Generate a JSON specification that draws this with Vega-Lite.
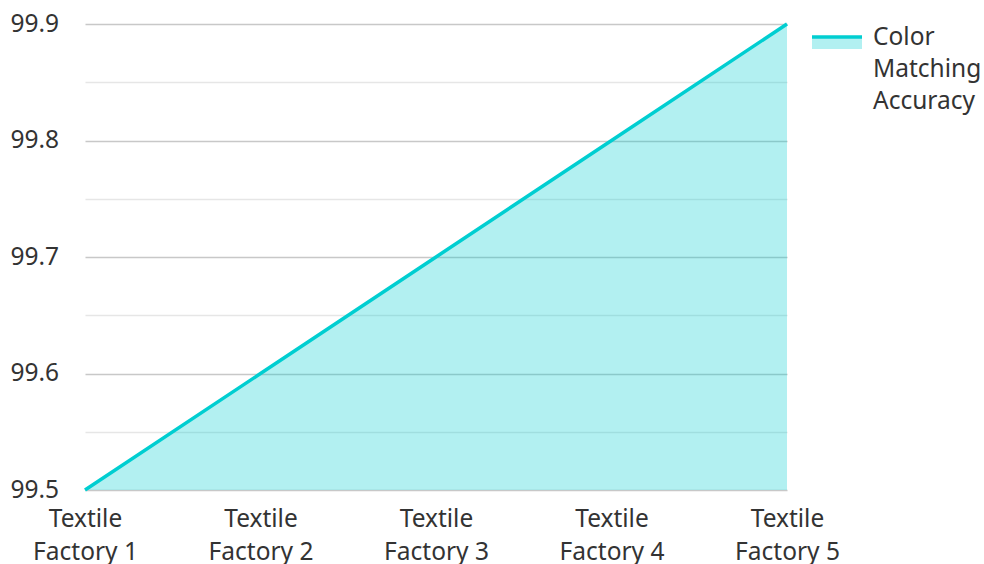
{
  "$schema": "https://vega.github.io/schema/vega-lite/v6.json",
  "width": 702,
  "height": 466,
  "autosize": {"type": "none"},
  "padding": {"left": 85, "top": 24, "right": 197, "bottom": 74},
  "background": "white",
  "config": {
    "view": {"stroke": null},
    "font": "Noto Sans",
    "axis": {"labelFont": "Noto Sans", "labelColor": "#333333", "labelFontSize": 24.5, "domain": false, "ticks": false}
  },
  "data": {
    "values": [
      {"factory": "Textile Factory 1", "accuracy": 99.5, "series": "Color Matching Accuracy"},
      {"factory": "Textile Factory 2", "accuracy": 99.6, "series": "Color Matching Accuracy"},
      {"factory": "Textile Factory 3", "accuracy": 99.7, "series": "Color Matching Accuracy"},
      {"factory": "Textile Factory 4", "accuracy": 99.8, "series": "Color Matching Accuracy"},
      {"factory": "Textile Factory 5", "accuracy": 99.9, "series": "Color Matching Accuracy"}
    ]
  },
  "encoding": {
    "x": {
      "field": "factory", "type": "ordinal", "sort": null,
      "scale": {"type": "point", "padding": 0},
      "axis": {
        "title": null, "labelAngle": 0, "grid": false,
        "labelExpr": "[slice(datum.label,0,7), slice(datum.label,8)]",
        "labelLineHeight": 33, "labelPadding": 29, "labelBaseline": "middle"
      }
    },
    "y": {
      "field": "accuracy", "type": "quantitative",
      "scale": {"domain": [99.5, 99.9], "nice": false, "zero": false, "clamp": true},
      "axis": {
        "title": null,
        "values": [99.5, 99.55, 99.6, 99.65, 99.7, 99.75, 99.8, 99.85, 99.9],
        "labelExpr": "abs(datum.value*10 - round(datum.value*10)) < 0.01 ? format(datum.value, '.1f') : ''",
        "gridColor": {"condition": {"test": "abs(datum.value*10 - round(datum.value*10)) < 0.01", "value": "#c8c8c8"}, "value": "#e6e6e6"},
        "gridWidth": 1.5,
        "labelAlign": "left", "labelPadding": 75, "labelBaseline": "middle"
      }
    }
  },
  "layer": [
    {
      "mark": {"type": "area"},
      "encoding": {
        "y2": {"datum": 99.5},
        "fill": {
          "field": "series", "type": "nominal",
          "scale": {"range": ["rgba(0,206,209,0.3)"]},
          "legend": {
            "title": null,
            "orient": "none",
            "legendX": 725,
            "legendY": -8,
            "symbolType": "M-1,-0.24H1V0.24H-1Z",
            "symbolSize": 2500,
            "symbolStrokeWidth": 3.5,
            "symbolDash": [50, 1000],
            "labelFont": "Noto Sans",
            "labelFontSize": 24.5,
            "labelColor": "#333333",
            "labelLimit": 200,
            "labelOffset": 9,
            "labelExpr": "['Color', 'Matching', 'Accuracy']",
            "labelBaseline": "top",
            "encode": {
              "symbols": {"update": {"strokeDash": {"value": [50, 1000]}, "strokeWidth": {"value": 3.5}}},
              "labels": {"update": {"lineHeight": {"value": 32}, "dy": {"value": -17}}}
            }
          }
        }
      }
    },
    {
      "mark": {"type": "line", "strokeWidth": 3.5},
      "encoding": {
        "stroke": {
          "field": "series", "type": "nominal",
          "scale": {"range": ["#00CED1"]},
          "legend": {
            "title": null,
            "orient": "none",
            "legendX": 725,
            "legendY": -8,
            "symbolType": "M-1,-0.24H1V0.24H-1Z",
            "symbolSize": 2500,
            "symbolStrokeWidth": 3.5,
            "symbolDash": [50, 1000],
            "labelFont": "Noto Sans",
            "labelFontSize": 24.5,
            "labelColor": "#333333",
            "labelLimit": 200,
            "labelOffset": 9,
            "labelExpr": "['Color', 'Matching', 'Accuracy']",
            "labelBaseline": "top",
            "encode": {
              "symbols": {"update": {"strokeDash": {"value": [50, 1000]}, "strokeWidth": {"value": 3.5}}},
              "labels": {"update": {"lineHeight": {"value": 32}, "dy": {"value": -17}}}
            }
          }
        }
      }
    }
  ]
}
